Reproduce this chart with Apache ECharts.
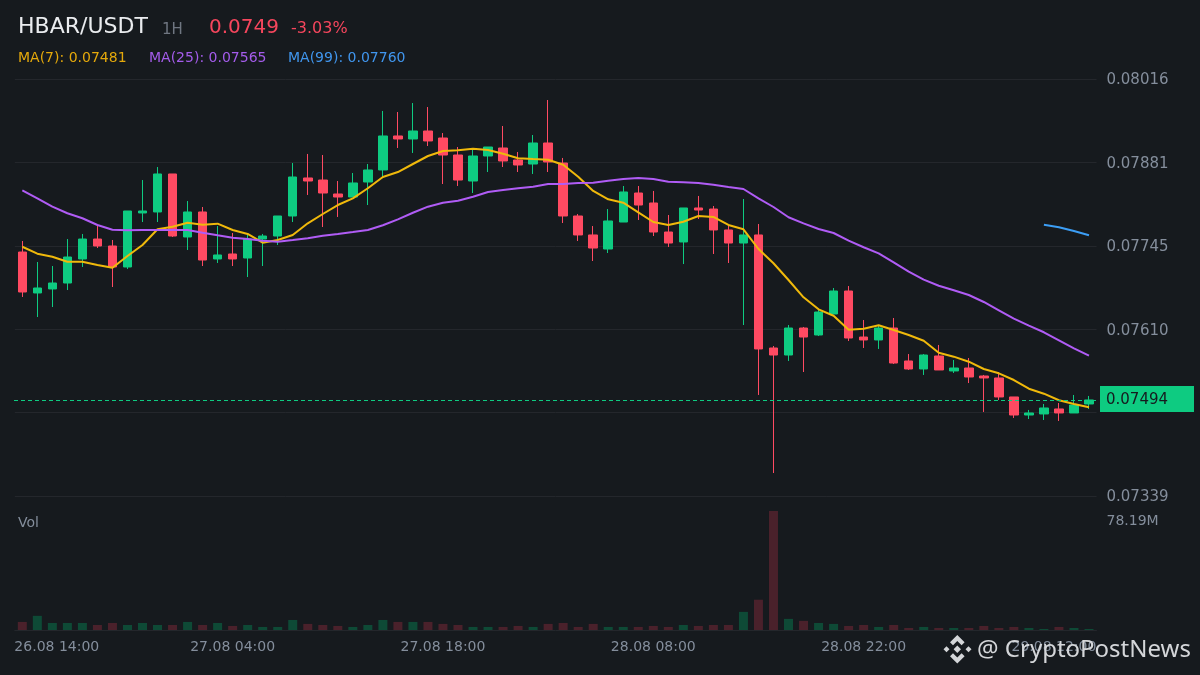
<!DOCTYPE html>
<html>
<head>
<meta charset="utf-8">
<style>html,body{margin:0;padding:0;background:#161a1e}#c{width:1200px;height:675px}</style>
<script src="https://cdn.jsdelivr.net/npm/echarts@6/dist/echarts.min.js"></script>
</head>
<body>
<div id="c"></div>
<script>
const categories = [
"26.08 14:00","26.08 15:00","26.08 16:00","26.08 17:00","26.08 18:00","26.08 19:00","26.08 20:00","26.08 21:00","26.08 22:00","26.08 23:00",
"27.08 00:00","27.08 01:00","27.08 02:00","27.08 03:00","27.08 04:00","27.08 05:00","27.08 06:00","27.08 07:00","27.08 08:00","27.08 09:00",
"27.08 10:00","27.08 11:00","27.08 12:00","27.08 13:00","27.08 14:00","27.08 15:00","27.08 16:00","27.08 17:00","27.08 18:00","27.08 19:00",
"27.08 20:00","27.08 21:00","27.08 22:00","27.08 23:00","28.08 00:00","28.08 01:00","28.08 02:00","28.08 03:00","28.08 04:00","28.08 05:00",
"28.08 06:00","28.08 07:00","28.08 08:00","28.08 09:00","28.08 10:00","28.08 11:00","28.08 12:00","28.08 13:00","28.08 14:00","28.08 15:00",
"28.08 16:00","28.08 17:00","28.08 18:00","28.08 19:00","28.08 20:00","28.08 21:00","28.08 22:00","28.08 23:00","29.08 00:00","29.08 01:00",
"29.08 02:00","29.08 03:00","29.08 04:00","29.08 05:00","29.08 06:00","29.08 07:00","29.08 08:00","29.08 09:00","29.08 10:00","29.08 11:00",
"29.08 12:00","29.08 13:00"];
const opens = [
0.077351,0.076686,0.076751,0.076848,0.077238,0.077562,0.077449,0.077108,0.077985,0.078001,
0.078618,0.077595,0.078001,0.077238,0.077319,0.077254,0.077562,0.077611,0.077936,0.078553,
0.078520,0.078293,0.078244,0.078488,0.078683,0.079235,0.079186,0.079316,0.079202,0.078926,
0.078504,0.078910,0.079040,0.078845,0.078780,0.079121,0.078796,0.077936,0.077628,0.077400,
0.077838,0.078309,0.078147,0.077676,0.077514,0.078066,0.078049,0.077709,0.077497,0.077628,
0.075793,0.075679,0.076117,0.076004,0.076345,0.076718,0.075971,0.075923,0.076117,0.075582,
0.075452,0.075663,0.075420,0.075468,0.075338,0.075306,0.074998,0.074705,0.074722,0.074803,
0.074738,0.074884];
const closes = [
0.076702,0.076767,0.076848,0.077270,0.077562,0.077449,0.077108,0.078017,0.078017,0.078618,
0.077611,0.078001,0.077221,0.077303,0.077238,0.077562,0.077611,0.077936,0.078569,0.078504,
0.078309,0.078244,0.078472,0.078683,0.079235,0.079186,0.079316,0.079154,0.078926,0.078520,
0.078910,0.079056,0.078829,0.078764,0.079121,0.078813,0.077936,0.077628,0.077416,0.077855,
0.078326,0.078114,0.077676,0.077497,0.078066,0.078033,0.077709,0.077497,0.077628,0.075777,
0.075679,0.076117,0.075971,0.076377,0.076718,0.075955,0.075923,0.076117,0.075549,0.075452,
0.075679,0.075436,0.075468,0.075322,0.075306,0.074998,0.074705,0.074738,0.074819,0.074738,
0.074868,0.074949];
const lows = [
0.076621,0.076296,0.076458,0.076734,0.077108,0.077416,0.076783,0.077075,0.077838,0.077838,
0.077595,0.077384,0.077124,0.077173,0.077124,0.076945,0.077124,0.077465,0.077838,0.078277,
0.077757,0.077920,0.078244,0.078114,0.078569,0.079040,0.078959,0.079072,0.078455,0.078423,
0.078309,0.078650,0.078731,0.078650,0.078618,0.078650,0.077822,0.077530,0.077205,0.077335,
0.077838,0.077871,0.077611,0.077433,0.077156,0.077887,0.077319,0.077173,0.076166,0.075030,
0.073763,0.075582,0.075403,0.075987,0.076345,0.075906,0.075793,0.075777,0.075533,0.075436,
0.075355,0.075436,0.075387,0.075224,0.074754,0.074949,0.074657,0.074640,0.074624,0.074608,
0.074738,0.074803];
const highs = [
0.077530,0.077189,0.077124,0.077562,0.077644,0.077773,0.077546,0.078017,0.078520,0.078731,
0.078618,0.078179,0.078082,0.077773,0.077660,0.077628,0.077644,0.077936,0.078796,0.078943,
0.078926,0.078504,0.078634,0.078780,0.079641,0.079624,0.079770,0.079705,0.079283,0.079056,
0.079024,0.079056,0.079397,0.078975,0.079251,0.079819,0.078878,0.077968,0.077773,0.078049,
0.078423,0.078423,0.078342,0.077952,0.078066,0.078261,0.078098,0.077773,0.078212,0.077806,
0.075825,0.076166,0.076134,0.076410,0.076767,0.076799,0.076247,0.076166,0.076280,0.075695,
0.075695,0.075842,0.075598,0.075630,0.075355,0.075403,0.074998,0.074787,0.074884,0.074900,
0.075030,0.075014];
const ma7 = [
0.077437,0.077324,0.077275,0.077194,0.077194,0.077140,0.077097,0.077286,0.077465,0.077720,
0.077762,0.077827,0.077795,0.077811,0.077709,0.077644,0.077502,0.077546,0.077627,0.077817,
0.077968,0.078114,0.078223,0.078386,0.078569,0.078650,0.078780,0.078910,0.078991,0.079003,
0.079029,0.079007,0.078947,0.078873,0.078861,0.078850,0.078769,0.078574,0.078342,0.078207,
0.078152,0.077996,0.077838,0.077790,0.077843,0.077936,0.077920,0.077790,0.077720,0.077400,
0.077168,0.076897,0.076616,0.076421,0.076317,0.076090,0.076106,0.076161,0.076085,0.076004,
0.075911,0.075717,0.075652,0.075570,0.075452,0.075382,0.075273,0.075132,0.075051,0.074944,
0.074884,0.074830];
const ma25 = [
0.078353,0.078223,0.078087,0.077980,0.077899,0.077790,0.077713,0.077704,0.077709,0.077709,
0.077709,0.077709,0.077665,0.077623,0.077584,0.077562,0.077535,0.077519,0.077546,0.077574,
0.077616,0.077644,0.077676,0.077709,0.077785,0.077882,0.077989,0.078087,0.078152,0.078184,
0.078249,0.078325,0.078358,0.078386,0.078412,0.078455,0.078455,0.078472,0.078476,0.078509,
0.078536,0.078553,0.078536,0.078493,0.078483,0.078472,0.078444,0.078407,0.078374,0.078223,
0.078082,0.077915,0.077817,0.077725,0.077660,0.077535,0.077428,0.077330,0.077184,0.077032,
0.076902,0.076804,0.076730,0.076653,0.076540,0.076405,0.076269,0.076155,0.076048,0.075918,
0.075788,0.075668];
const ma99 = [
null,null,null,null,null,null,null,null,null,null,null,null,null,null,null,null,null,null,
null,null,null,null,null,null,null,null,null,null,null,null,null,null,null,null,null,null,
null,null,null,null,null,null,null,null,null,null,null,null,null,null,null,null,null,null,
null,null,null,null,null,null,null,null,null,null,null,null,null,null,
0.077795,0.077752,0.077692,0.077623];
const volumes = [
5.3,9.3,4.6,4.6,4.6,3.3,4.6,3.3,4.6,3.3,
3.3,5.3,3.3,4.6,2.65,3.3,2.0,2.0,6.6,4.0,
3.3,2.65,2.0,3.3,6.6,5.3,5.3,5.3,4.0,3.3,
2.0,2.0,2.0,2.65,2.0,4.0,4.6,2.0,4.0,2.0,
2.0,2.0,2.65,2.0,3.3,2.65,3.3,3.3,11.9,19.9,
78.19,7.3,6.0,4.6,4.0,2.65,3.3,2.0,3.3,1.33,
2.0,1.33,1.33,1.33,2.65,1.33,2.0,1.33,0.66,2.0,
1.33,0.66];
const lastPrice = 0.07494;
const priceTicksHidden = [1];
const GREEN='#0ECB81', RED='#FF4A62', GRID='#24272C', TXT='#848E9C', BG='#161A1E', MARK='#D4D6D9';
const FONT='"DejaVu Sans",sans-serif';
const labelEvery = 14, lastIdx = 70;
const candle = categories.map((c,i)=>[opens[i],closes[i],lows[i],highs[i]]);
const vols = volumes.map((v,i)=>({value:v,itemStyle:{color:closes[i]>=opens[i]?'#0E4A36':'#4A212B'}}));
const maLine=(name,data,color)=>({name,type:'line',data,xAxisIndex:0,yAxisIndex:0,showSymbol:false,symbol:'none',
  lineStyle:{color,width:2},connectNulls:false,silent:true,z:5});
const txt=(x,y,text,fill,size,extra)=>({type:'text',x,y,silent:true,z:20,
  style:Object.assign({text,fill,font:size+'px '+FONT,textVerticalAlign:'middle',verticalAlign:'middle'},extra||{})});
const poly=(points)=>({type:'polygon',silent:true,z:20,shape:{points},style:{fill:MARK}});
const chart=echarts.init(document.getElementById('c'),null,{renderer:'canvas',width:1200,height:675});
const staticGraphics=[
  txt(18,27,'HBAR/USDT','#EAECEF',22),
  txt(162,30,'1H','#6F7681',15),
  txt(209,28,'0.0749','#F6465D',20),
  txt(291,29,'-3.03%','#F6465D',16),
  txt(18,58,'MA(7): 0.07481','#E5A90B',14),
  txt(149,58,'MA(25): 0.07565','#A45CEB',14),
  txt(288,58,'MA(99): 0.07760','#4096EE',14),
  txt(18,523,'Vol',TXT,14),
  txt(977,650,'@ CryptoPostNews',MARK,24,{font:'24px "Noto Sans",sans-serif'}),
  poly([[957.3,635],[950,642.3],[953,645.3],[957.3,641],[961.6,645.3],[964.6,642.3]]),
  poly([[957.3,663.6],[950,656.3],[953,653.3],[957.3,657.6],[961.6,653.3],[964.6,656.3]]),
  poly([[946.5,646.3],[949.5,649.3],[946.5,652.3],[943.5,649.3]]),
  poly([[968.5,646.3],[971.5,649.3],[968.5,652.3],[965.5,649.3]]),
  poly([[957.3,645.5],[961,649.3],[957.3,653],[953.6,649.3]])
];
chart.setOption({
  animation:false,backgroundColor:BG,
  grid:[
    {left:14.8,right:103.5,top:79,height:417},
    {left:14.8,right:103.5,top:511,height:119}
  ],
  xAxis:[
    {type:'category',gridIndex:0,data:categories,axisLine:{show:false},axisTick:{show:false},axisLabel:{show:false},splitLine:{show:false}},
    {type:'category',gridIndex:1,data:categories,axisLine:{show:true,lineStyle:{color:GRID}},axisTick:{show:false},splitLine:{show:false},
     axisLabel:{interval:labelEvery-1,color:TXT,fontSize:14,fontFamily:FONT,margin:10,hideOverlap:false,
       formatter:(v,i)=>i===0?'{a|'+v+'}':(i===lastIdx?'{b|'+v+'}':v),
       rich:{a:{padding:[0,0,0,69],color:TXT,fontSize:14,fontFamily:FONT},b:{padding:[0,40,0,0],color:TXT,fontSize:14,fontFamily:FONT}}}}
  ],
  yAxis:[
    {type:'value',gridIndex:0,position:'right',min:0.07339,max:0.08016,interval:0.001354,
     axisLine:{show:false},axisTick:{show:false},
     splitLine:{show:true,lineStyle:{color:GRID,width:1}},
     axisLabel:{color:TXT,margin:10,showMaxLabel:true,showMinLabel:true,
       formatter:(v,i)=>priceTicksHidden.includes(i)?'':'{p|'+v.toFixed(5)+'}',
       rich:{p:{color:TXT,fontSize:15,fontFamily:FONT,padding:[3,0,0,0]}}}},
    {type:'value',gridIndex:1,position:'right',min:0,max:78.19,interval:78.19,
     axisLine:{show:false},axisTick:{show:false},splitLine:{show:false},
     axisLabel:{color:TXT,fontSize:14,fontFamily:FONT,margin:10,verticalAlign:'top',padding:[3,0,0,0],
       formatter:v=>v>0?v.toFixed(2)+'M':''}}
  ],
  series:[
    {name:'K',type:'candlestick',xAxisIndex:0,yAxisIndex:0,data:candle,barWidth:9,z:3,silent:true,
     itemStyle:{color:GREEN,color0:RED,borderColor:GREEN,borderColor0:RED,borderWidth:1}},
    maLine('MA7',ma7,'#F0B90B'),
    maLine('MA25',ma25,'#B05CF5'),
    maLine('MA99',ma99,'#3C9EF5'),
    {name:'Vol',type:'bar',xAxisIndex:1,yAxisIndex:1,data:vols,barWidth:9,silent:true}
  ],
  graphic:staticGraphics
});
// last-price line and tag, placed through the price axis scale
const yLast = Math.floor(chart.convertToPixel({yAxisIndex:0},lastPrice))+0.5;
chart.setOption({graphic:staticGraphics.concat([
  {type:'polyline',silent:true,z:6,shape:{points:[[14,yLast],[1097,yLast]]},style:{stroke:GREEN,fill:null,lineWidth:1,lineDash:[4,3],opacity:1}},
  {type:'rect',silent:true,z:7,shape:{x:1100,y:yLast-14.5,width:94,height:26},style:{fill:GREEN}},
  txt(1106,yLast-0.5,lastPrice.toFixed(5),BG,15)
])});
</script>
</body>
</html>
